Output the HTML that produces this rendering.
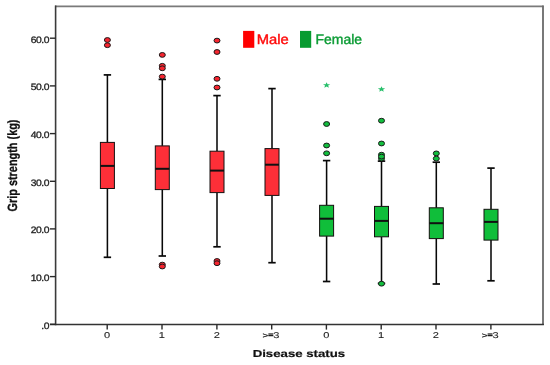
<!DOCTYPE html>
<html><head><meta charset="utf-8"><style>
html,body{margin:0;padding:0;background:#fff;}
body{width:550px;height:365px;overflow:hidden;}
svg{display:block;}
text{font-family:"Liberation Sans",Arial,sans-serif;text-rendering:geometricPrecision;}
.yl{font-size:9.4px;fill:#1e1e1e;letter-spacing:-0.4px;stroke:#1e1e1e;stroke-width:0.3px;}
.xl{font-size:8.5px;fill:#1e1e1e;stroke:#1e1e1e;stroke-width:0.1px;}
.xgt{font-size:7.6px;stroke:#1e1e1e;stroke-width:0.2px;}
.xeq{font-size:6.8px;stroke:#1e1e1e;stroke-width:0.55px;}
.at{font-size:10.2px;font-weight:bold;fill:#111;stroke:#111;stroke-width:0.2px;}
.at2{font-size:10.9px;stroke:#111;stroke-width:0.25px;}
.lg{font-size:13.8px;stroke-width:0.4px;}
</style></head><body>
<svg width="550" height="365" viewBox="0 0 550 365">
<line x1="55" y1="6.4" x2="543.5" y2="6.4" stroke="#7a7a7a" stroke-width="1.6"/>
<line x1="543.0" y1="5.6" x2="543.0" y2="325" stroke="#6a6a6a" stroke-width="1.8"/>
<line x1="55.6" y1="5.6" x2="55.6" y2="325.3" stroke="#3a3a3a" stroke-width="1.6"/>
<line x1="50" y1="324.5" x2="543.9" y2="324.5" stroke="#333" stroke-width="1.6"/>
<line x1="49.9" y1="324.3" x2="55.6" y2="324.3" stroke="#2a2a2a" stroke-width="1.4"/>
<text transform="translate(49.0,328.7) scale(1.1,1)" class="yl" text-anchor="end">.0</text>
<line x1="49.9" y1="276.6" x2="55.6" y2="276.6" stroke="#2a2a2a" stroke-width="1.4"/>
<text transform="translate(49.0,281.0) scale(1.1,1)" class="yl" text-anchor="end">10.0</text>
<line x1="49.9" y1="228.9" x2="55.6" y2="228.9" stroke="#2a2a2a" stroke-width="1.4"/>
<text transform="translate(49.0,233.3) scale(1.1,1)" class="yl" text-anchor="end">20.0</text>
<line x1="49.9" y1="181.3" x2="55.6" y2="181.3" stroke="#2a2a2a" stroke-width="1.4"/>
<text transform="translate(49.0,185.7) scale(1.1,1)" class="yl" text-anchor="end">30.0</text>
<line x1="49.9" y1="133.6" x2="55.6" y2="133.6" stroke="#2a2a2a" stroke-width="1.4"/>
<text transform="translate(49.0,138.0) scale(1.1,1)" class="yl" text-anchor="end">40.0</text>
<line x1="49.9" y1="85.9" x2="55.6" y2="85.9" stroke="#2a2a2a" stroke-width="1.4"/>
<text transform="translate(49.0,90.3) scale(1.1,1)" class="yl" text-anchor="end">50.0</text>
<line x1="49.9" y1="38.2" x2="55.6" y2="38.2" stroke="#2a2a2a" stroke-width="1.4"/>
<text transform="translate(49.0,42.6) scale(1.1,1)" class="yl" text-anchor="end">60.0</text>
<line x1="107.2" y1="324.5" x2="107.2" y2="329.6" stroke="#2a2a2a" stroke-width="1.4"/>
<text transform="translate(107.0,337.8) scale(1.3,1)" class="xl" text-anchor="middle">0</text>
<line x1="162.0" y1="324.5" x2="162.0" y2="329.6" stroke="#2a2a2a" stroke-width="1.4"/>
<text transform="translate(161.8,337.8) scale(1.3,1)" class="xl" text-anchor="middle">1</text>
<line x1="216.9" y1="324.5" x2="216.9" y2="329.6" stroke="#2a2a2a" stroke-width="1.4"/>
<text transform="translate(216.7,337.8) scale(1.3,1)" class="xl" text-anchor="middle">2</text>
<line x1="271.7" y1="324.5" x2="271.7" y2="329.6" stroke="#2a2a2a" stroke-width="1.4"/>
<text transform="translate(271.7,337.8) scale(1.3,1)" class="xl" text-anchor="middle"><tspan x="-4.77" class="xgt">&gt;</tspan><tspan x="-0.58" y="-0.5" class="xeq">=</tspan><tspan x="3.62" y="0">3</tspan></text>
<line x1="326.4" y1="324.5" x2="326.4" y2="329.6" stroke="#2a2a2a" stroke-width="1.4"/>
<text transform="translate(326.2,337.8) scale(1.3,1)" class="xl" text-anchor="middle">0</text>
<line x1="381.2" y1="324.5" x2="381.2" y2="329.6" stroke="#2a2a2a" stroke-width="1.4"/>
<text transform="translate(381.0,337.8) scale(1.3,1)" class="xl" text-anchor="middle">1</text>
<line x1="436.0" y1="324.5" x2="436.0" y2="329.6" stroke="#2a2a2a" stroke-width="1.4"/>
<text transform="translate(435.8,337.8) scale(1.3,1)" class="xl" text-anchor="middle">2</text>
<line x1="490.9" y1="324.5" x2="490.9" y2="329.6" stroke="#2a2a2a" stroke-width="1.4"/>
<text transform="translate(490.9,337.8) scale(1.3,1)" class="xl" text-anchor="middle"><tspan x="-4.77" class="xgt">&gt;</tspan><tspan x="-0.58" y="-0.5" class="xeq">=</tspan><tspan x="3.62" y="0">3</tspan></text>
<line x1="107.4" y1="74.9" x2="107.4" y2="142.4" stroke="#080808" stroke-width="1.55"/>
<line x1="107.4" y1="188.5" x2="107.4" y2="257.3" stroke="#080808" stroke-width="1.55"/>
<line x1="103.70" y1="74.9" x2="111.10" y2="74.9" stroke="#080808" stroke-width="1.7"/>
<line x1="103.70" y1="257.3" x2="111.10" y2="257.3" stroke="#080808" stroke-width="1.7"/>
<rect x="100.40" y="142.4" width="14.0" height="46.1" fill="#fd2f38" stroke="#141010" stroke-width="1.0"/>
<line x1="100.40" y1="165.9" x2="114.40" y2="165.9" stroke="#111" stroke-width="2"/>
<ellipse cx="107.4" cy="40.0" rx="3.0" ry="2.4" fill="#f7252f" stroke="#1a1a1a" stroke-width="1"/>
<ellipse cx="107.4" cy="45.2" rx="3.0" ry="2.4" fill="#f7252f" stroke="#1a1a1a" stroke-width="1"/>
<line x1="162.3" y1="79.4" x2="162.3" y2="145.9" stroke="#080808" stroke-width="1.55"/>
<line x1="162.3" y1="189.6" x2="162.3" y2="256.0" stroke="#080808" stroke-width="1.55"/>
<line x1="158.60" y1="79.4" x2="166.00" y2="79.4" stroke="#080808" stroke-width="1.7"/>
<line x1="158.60" y1="256.0" x2="166.00" y2="256.0" stroke="#080808" stroke-width="1.7"/>
<rect x="155.30" y="145.9" width="14.0" height="43.7" fill="#fd2f38" stroke="#141010" stroke-width="1.0"/>
<line x1="155.30" y1="168.8" x2="169.30" y2="168.8" stroke="#111" stroke-width="2"/>
<ellipse cx="162.3" cy="54.9" rx="3.0" ry="2.4" fill="#f7252f" stroke="#1a1a1a" stroke-width="1"/>
<ellipse cx="162.3" cy="65.8" rx="3.0" ry="2.4" fill="#f7252f" stroke="#1a1a1a" stroke-width="1"/>
<ellipse cx="162.3" cy="68.3" rx="3.0" ry="2.4" fill="#f7252f" stroke="#1a1a1a" stroke-width="1"/>
<ellipse cx="162.3" cy="76.6" rx="3.0" ry="2.4" fill="#f7252f" stroke="#1a1a1a" stroke-width="1"/>
<ellipse cx="162.3" cy="264.6" rx="3.0" ry="2.4" fill="#f7252f" stroke="#1a1a1a" stroke-width="1"/>
<ellipse cx="162.3" cy="266.5" rx="3.0" ry="2.4" fill="#f7252f" stroke="#1a1a1a" stroke-width="1"/>
<line x1="217.0" y1="95.6" x2="217.0" y2="151.2" stroke="#080808" stroke-width="1.55"/>
<line x1="217.0" y1="192.6" x2="217.0" y2="246.8" stroke="#080808" stroke-width="1.55"/>
<line x1="213.30" y1="95.6" x2="220.70" y2="95.6" stroke="#080808" stroke-width="1.7"/>
<line x1="213.30" y1="246.8" x2="220.70" y2="246.8" stroke="#080808" stroke-width="1.7"/>
<rect x="210.00" y="151.2" width="14.0" height="41.4" fill="#fd2f38" stroke="#141010" stroke-width="1.0"/>
<line x1="210.00" y1="170.6" x2="224.00" y2="170.6" stroke="#111" stroke-width="2"/>
<ellipse cx="217.0" cy="40.6" rx="3.0" ry="2.4" fill="#f7252f" stroke="#1a1a1a" stroke-width="1"/>
<ellipse cx="217.0" cy="52.0" rx="3.0" ry="2.4" fill="#f7252f" stroke="#1a1a1a" stroke-width="1"/>
<ellipse cx="217.0" cy="78.8" rx="3.0" ry="2.4" fill="#f7252f" stroke="#1a1a1a" stroke-width="1"/>
<ellipse cx="217.0" cy="87.5" rx="3.0" ry="2.4" fill="#f7252f" stroke="#1a1a1a" stroke-width="1"/>
<ellipse cx="217.0" cy="261.0" rx="3.0" ry="2.4" fill="#f7252f" stroke="#1a1a1a" stroke-width="1"/>
<ellipse cx="217.0" cy="263.2" rx="3.0" ry="2.4" fill="#f7252f" stroke="#1a1a1a" stroke-width="1"/>
<line x1="272.0" y1="88.6" x2="272.0" y2="148.6" stroke="#080808" stroke-width="1.55"/>
<line x1="272.0" y1="195.4" x2="272.0" y2="262.7" stroke="#080808" stroke-width="1.55"/>
<line x1="268.30" y1="88.6" x2="275.70" y2="88.6" stroke="#080808" stroke-width="1.7"/>
<line x1="268.30" y1="262.7" x2="275.70" y2="262.7" stroke="#080808" stroke-width="1.7"/>
<rect x="265.00" y="148.6" width="14.0" height="46.8" fill="#fd2f38" stroke="#141010" stroke-width="1.0"/>
<line x1="265.00" y1="164.7" x2="279.00" y2="164.7" stroke="#111" stroke-width="2"/>
<line x1="326.6" y1="160.6" x2="326.6" y2="205.3" stroke="#080808" stroke-width="1.55"/>
<line x1="326.6" y1="236.1" x2="326.6" y2="281.5" stroke="#080808" stroke-width="1.55"/>
<line x1="322.90" y1="160.6" x2="330.30" y2="160.6" stroke="#080808" stroke-width="1.7"/>
<line x1="322.90" y1="281.5" x2="330.30" y2="281.5" stroke="#080808" stroke-width="1.7"/>
<rect x="319.60" y="205.3" width="14.0" height="30.8" fill="#10be3a" stroke="#141010" stroke-width="1.0"/>
<line x1="319.60" y1="218.7" x2="333.60" y2="218.7" stroke="#111" stroke-width="2"/>
<ellipse cx="326.6" cy="124.0" rx="3.0" ry="2.4" fill="#12bf3e" stroke="#1a1a1a" stroke-width="1"/>
<ellipse cx="326.6" cy="145.5" rx="3.0" ry="2.4" fill="#12bf3e" stroke="#1a1a1a" stroke-width="1"/>
<ellipse cx="326.6" cy="153.3" rx="3.0" ry="2.4" fill="#12bf3e" stroke="#1a1a1a" stroke-width="1"/>
<path d="M326.60,82.20 L327.58,84.15 L330.25,84.27 L328.18,85.60 L328.86,87.63 L326.60,86.50 L324.34,87.63 L325.02,85.60 L322.95,84.27 L325.62,84.15 Z" fill="#27bf6a"/>
<line x1="381.5" y1="161.1" x2="381.5" y2="206.4" stroke="#080808" stroke-width="1.55"/>
<line x1="381.5" y1="236.8" x2="381.5" y2="283.4" stroke="#080808" stroke-width="1.55"/>
<line x1="377.80" y1="161.1" x2="385.20" y2="161.1" stroke="#080808" stroke-width="1.7"/>
<line x1="377.80" y1="283.4" x2="385.20" y2="283.4" stroke="#080808" stroke-width="1.7"/>
<rect x="374.50" y="206.4" width="14.0" height="30.4" fill="#10be3a" stroke="#141010" stroke-width="1.0"/>
<line x1="374.50" y1="220.9" x2="388.50" y2="220.9" stroke="#111" stroke-width="2"/>
<ellipse cx="381.5" cy="120.7" rx="3.0" ry="2.4" fill="#12bf3e" stroke="#1a1a1a" stroke-width="1"/>
<ellipse cx="381.5" cy="143.5" rx="3.0" ry="2.4" fill="#12bf3e" stroke="#1a1a1a" stroke-width="1"/>
<ellipse cx="381.5" cy="154.7" rx="3.0" ry="2.4" fill="#12bf3e" stroke="#1a1a1a" stroke-width="1"/>
<ellipse cx="381.5" cy="158.6" rx="3.0" ry="2.4" fill="#12bf3e" stroke="#1a1a1a" stroke-width="1"/>
<ellipse cx="381.5" cy="156.6" rx="3.0" ry="2.4" fill="#12bf3e" stroke="#1a1a1a" stroke-width="1"/>
<ellipse cx="381.5" cy="283.7" rx="3.0" ry="2.4" fill="#12bf3e" stroke="#1a1a1a" stroke-width="1"/>
<path d="M381.50,86.30 L382.48,88.25 L385.15,88.37 L383.08,89.70 L383.76,91.73 L381.50,90.60 L379.24,91.73 L379.92,89.70 L377.85,88.37 L380.52,88.25 Z" fill="#27bf6a"/>
<line x1="436.3" y1="162.2" x2="436.3" y2="207.8" stroke="#080808" stroke-width="1.55"/>
<line x1="436.3" y1="238.6" x2="436.3" y2="284.0" stroke="#080808" stroke-width="1.55"/>
<line x1="432.60" y1="162.2" x2="440.00" y2="162.2" stroke="#080808" stroke-width="1.7"/>
<line x1="432.60" y1="284.0" x2="440.00" y2="284.0" stroke="#080808" stroke-width="1.7"/>
<rect x="429.30" y="207.8" width="14.0" height="30.8" fill="#10be3a" stroke="#141010" stroke-width="1.0"/>
<line x1="429.30" y1="223.2" x2="443.30" y2="223.2" stroke="#111" stroke-width="2"/>
<ellipse cx="436.3" cy="153.4" rx="3.0" ry="2.4" fill="#12bf3e" stroke="#1a1a1a" stroke-width="1"/>
<ellipse cx="436.3" cy="158.6" rx="3.0" ry="2.4" fill="#12bf3e" stroke="#1a1a1a" stroke-width="1"/>
<line x1="491.0" y1="168.1" x2="491.0" y2="209.3" stroke="#080808" stroke-width="1.55"/>
<line x1="491.0" y1="240.1" x2="491.0" y2="280.8" stroke="#080808" stroke-width="1.55"/>
<line x1="487.30" y1="168.1" x2="494.70" y2="168.1" stroke="#080808" stroke-width="1.7"/>
<line x1="487.30" y1="280.8" x2="494.70" y2="280.8" stroke="#080808" stroke-width="1.7"/>
<rect x="484.00" y="209.3" width="14.0" height="30.8" fill="#10be3a" stroke="#141010" stroke-width="1.0"/>
<line x1="484.00" y1="221.9" x2="498.00" y2="221.9" stroke="#111" stroke-width="2"/>
<rect x="243.1" y="30.9" width="11.2" height="16.9" fill="#ff0000"/>
<text x="256.7" y="43.7" class="lg" fill="#ff0b0b" stroke="#ff0b0b" textLength="32.0" lengthAdjust="spacingAndGlyphs">Male</text>
<rect x="300.0" y="30.9" width="11.2" height="16.9" fill="#079b30"/>
<text x="315.5" y="43.7" class="lg" fill="#0d9c36" stroke="#0d9c36" textLength="46.6" lengthAdjust="spacingAndGlyphs">Female</text>
<text transform="translate(298.9,356.5) scale(1.296,1)" class="at" text-anchor="middle">Disease status</text>
<text transform="translate(17.0,165.5) scale(1.23,1) rotate(-90)" class="at at2" text-anchor="middle">Grip strength (kg)</text>
</svg>
</body></html>
